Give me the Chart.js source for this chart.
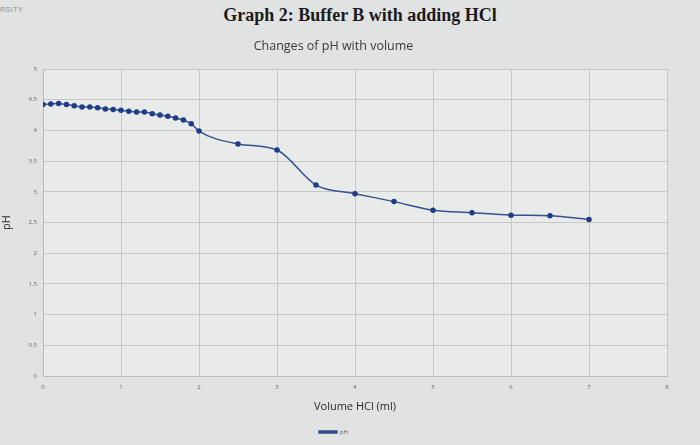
<!DOCTYPE html>
<html>
<head>
<meta charset="utf-8">
<script src="https://cdn.jsdelivr.net/npm/chart.js@4/dist/chart.umd.min.js"></script>
<style>
  html, body { margin: 0; padding: 0; background: #e1e3e3; }
  #wrap { position: relative; width: 700px; height: 445px; overflow: hidden; }
  #heading {
    position: absolute; top: 5px; left: 0; width: 720px; text-align: center;
    font-family: "Liberation Serif", serif; font-weight: bold; font-size: 18px; color: #1a1a1a;
  }
  #corner {
    position: absolute; top: 6px; left: 0; font-family: "Liberation Sans", sans-serif;
    font-size: 7px; color: #8a8c8c; letter-spacing: 0.5px;
  }
  canvas { position: absolute; top: 0; left: 0; }
</style>
</head>
<body>
<div id="wrap">
  <div id="corner">RSITY</div>
  <div id="heading">Graph 2: Buffer B with adding HCl</div>
  <canvas id="chart" width="700" height="445"></canvas>
</div>
<script>
// volume of HCl added (ml)
const volumes = [0, 0.1, 0.2, 0.3, 0.4, 0.5, 0.6, 0.7, 0.8, 0.9, 1.0,
                 1.1, 1.2, 1.3, 1.4, 1.5, 1.6, 1.7, 1.8, 1.9, 2.0,
                 2.5, 3.0, 3.5, 4.0, 4.5, 5.0, 5.5, 6.0, 6.5, 7.0];
// measured pH
const phValues = [4.42, 4.43, 4.44, 4.42, 4.40, 4.38, 4.38, 4.37, 4.35, 4.34, 4.33,
                  4.31, 4.30, 4.30, 4.27, 4.25, 4.23, 4.20, 4.17, 4.11, 3.99,
                  3.78, 3.68, 3.11, 2.97, 2.84, 2.70, 2.66, 2.62, 2.61, 2.55];

const points = volumes.map((v, i) => ({ x: v, y: phValues[i] }));

const plotBg = {
    id: 'plotBg',
    beforeDraw(chart) {
        const a = chart.chartArea;
        const ctx = chart.ctx;
        ctx.save();
        ctx.fillStyle = '#e9ebeb';
        ctx.fillRect(a.left, a.top, a.right - a.left, a.bottom - a.top);
        ctx.restore();
    }
};

new Chart(document.getElementById('chart'), {
    type: 'line',
    data: {
        datasets: [{
            label: 'pH',
            data: points,
            borderColor: '#35528f',
            backgroundColor: '#1f3d86',
            borderWidth: 1.5,
            pointRadius: 2,
            pointBackgroundColor: '#1f3d86',
            pointBorderColor: '#1f3d86',
            cubicInterpolationMode: 'monotone',
            fill: false
        }]
    },
    options: {
        responsive: false,
        animation: false,
        layout: { padding: { left: 0, right: 33, top: 30, bottom: 0 } },
        plugins: {
            title: {
                display: true,
                text: 'Changes of pH with volume',
                color: '#3a3a3a',
                font: { family: 'Open Sans', size: 12.5, weight: 'normal' },
                padding: { top: 9, bottom: 15 }
            },
            legend: {
                position: 'bottom',
                labels: {
                    color: '#555',
                    font: { family: 'Open Sans', size: 6 },
                    boxWidth: 18,
                    boxHeight: 2,
                    padding: 8
                }
            },
            tooltip: { enabled: false }
        },
        scales: {
            x: {
                type: 'linear',
                min: 0, max: 8,
                ticks: { stepSize: 1, color: '#666', font: { family: 'Open Sans', size: 6 }, padding: 8 },
                grid: { color: '#c6c8c8', lineWidth: 1, drawTicks: false },
                border: { color: '#b9bbbb' },
                title: {
                    display: true, text: 'Volume HCl (ml)', color: '#2a2a2a',
                    font: { family: 'Open Sans', size: 11 }, padding: { top: 4, bottom: 8 }
                },
                afterFit(s) { s.height = 45; }
            },
            y: {
                min: 0, max: 5,
                ticks: {
                    stepSize: 0.5, color: '#666', font: { family: 'Open Sans', size: 6 }, padding: 6,
                    callback: v => String(v)
                },
                grid: { color: '#c6c8c8', lineWidth: 1, drawTicks: false },
                border: { color: '#b9bbbb' },
                title: {
                    display: true, text: 'pH', color: '#2a2a2a',
                    font: { family: 'Open Sans', size: 11 }, padding: { top: 0, bottom: 4 }
                },
                afterFit(s) { s.width = 43; }
            }
        }
    },
    plugins: [plotBg]
});
</script>
</body>
</html>
